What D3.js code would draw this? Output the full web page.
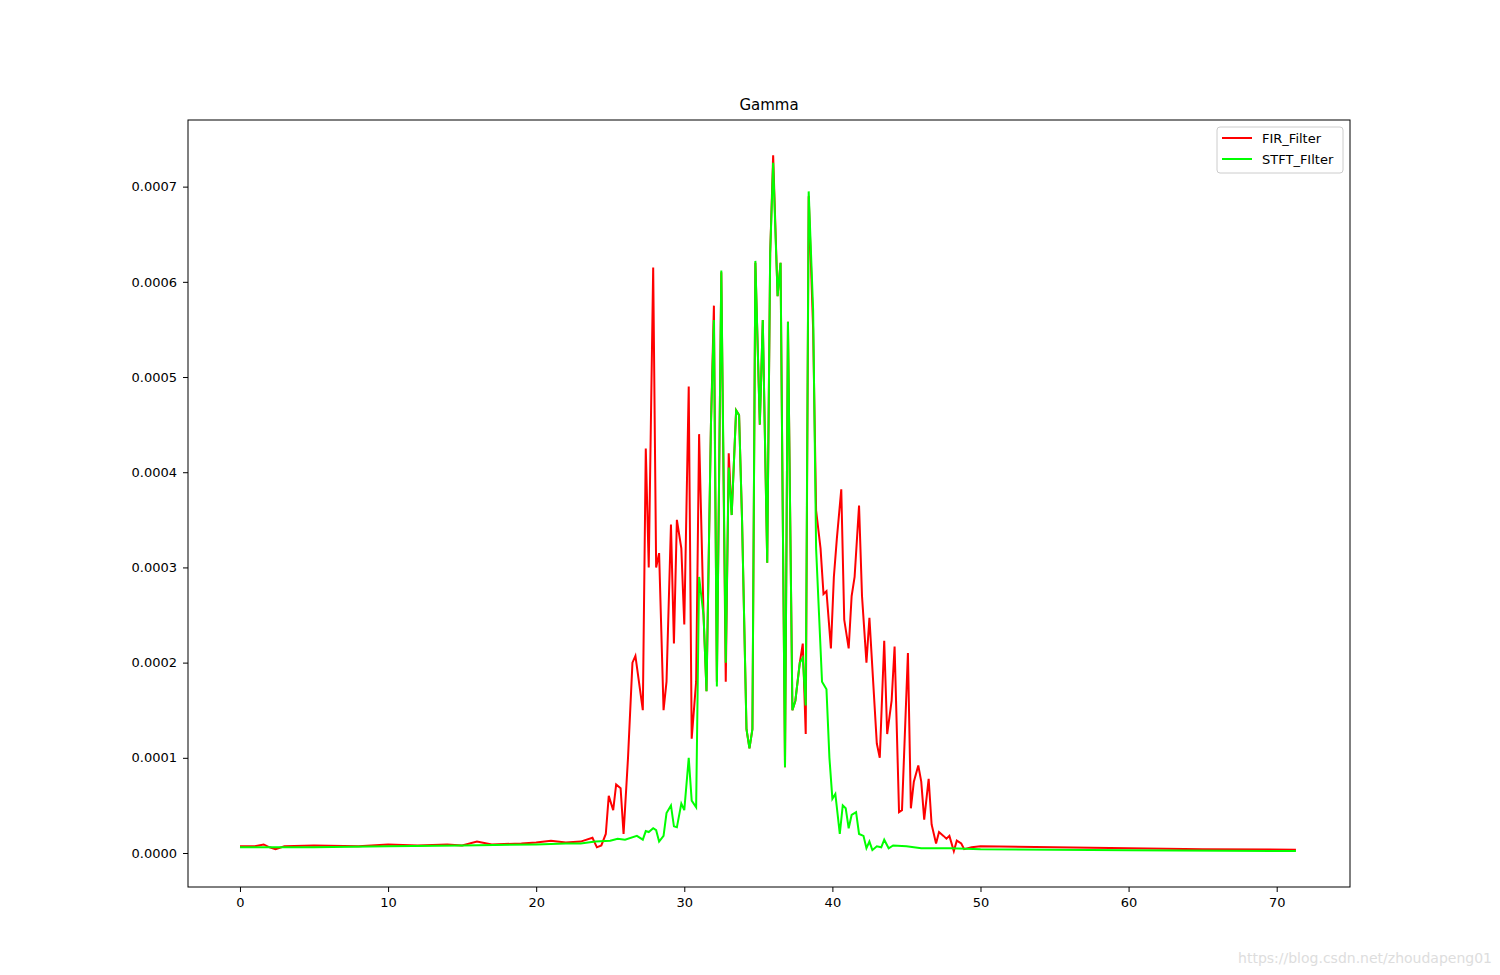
<!DOCTYPE html>
<html><head><meta charset="utf-8">
<script src="https://cdn.jsdelivr.net/npm/d3@7"></script>
<style>body{margin:0;background:#fff}text{font-family:"DejaVu Sans",sans-serif}</style>
</head><body><svg id="c" width="1500" height="975"></svg>
<script>
const firX=[0,1,1.6,2,2.4,3,5,8,10,12,14,15,16,17,19,20,21,22,23,23.8,24.1,24.4,24.7,24.9,25.2,25.4,25.7,25.9,26.2,26.5,26.7,27.2,27.4,27.6,27.9,28.1,28.3,28.6,28.8,29.1,29.3,29.5,29.8,30.0,30.3,30.5,30.8,31.0,31.3,31.5,31.8,32.0,32.2,32.5,32.8,33.0,33.2,33.5,33.7,33.9,34.2,34.4,34.6,34.8,35.1,35.3,35.6,35.8,36.0,36.3,36.5,36.8,37.0,37.3,37.5,37.8,38.0,38.2,38.4,38.7,38.9,39.2,39.4,39.6,39.9,40.1,40.3,40.6,40.8,41.1,41.3,41.5,41.8,42.0,42.3,42.5,43.0,43.2,43.5,43.7,44.0,44.2,44.5,44.7,45.1,45.3,45.5,45.8,46.0,46.2,46.5,46.7,47.0,47.2,47.5,47.7,47.9,48.2,48.4,48.7,48.9,49.4,50,55,60,65,71.3];
const firY=[0.07,0.07,0.09,0.06,0.04,0.07,0.08,0.07,0.09,0.08,0.09,0.08,0.12,0.09,0.1,0.11,0.13,0.11,0.12,0.16,0.06,0.08,0.2,0.6,0.45,0.72,0.68,0.2,1.0,2.0,2.07,1.5,4.25,3.0,6.15,3.0,3.15,1.5,1.8,3.45,2.2,3.5,3.2,2.4,4.9,1.2,1.8,4.4,2.5,1.7,4.5,5.75,1.8,6.1,1.8,4.2,3.55,4.65,4.6,3.5,1.3,1.1,1.3,6.2,4.5,5.6,3.05,6.3,7.33,5.85,6.2,0.9,5.58,1.5,1.6,2.0,2.2,1.25,6.9,5.5,3.6,3.2,2.72,2.75,2.15,2.9,3.3,3.82,2.45,2.15,2.7,2.9,3.65,2.7,2.0,2.47,1.15,1.0,2.23,1.25,1.6,2.17,0.43,0.45,2.1,0.47,0.75,0.92,0.75,0.35,0.78,0.3,0.1,0.22,0.18,0.15,0.18,0.02,0.13,0.1,0.04,0.06,0.07,0.06,0.05,0.04,0.035];
const stftX=[0,5,10,15,20,22,23,24,25,25.5,26,26.8,27.2,27.4,27.6,27.9,28.1,28.3,28.6,28.8,29.1,29.3,29.5,29.8,30.0,30.3,30.5,30.8,31.0,31.3,31.5,31.8,32.0,32.2,32.5,32.8,33.0,33.2,33.5,33.7,33.9,34.2,34.4,34.6,34.8,35.1,35.3,35.6,35.8,36.0,36.3,36.5,36.8,37.0,37.3,37.5,37.8,38.0,38.2,38.4,38.7,38.9,39.1,39.3,39.6,39.8,40.0,40.2,40.5,40.7,40.9,41.1,41.3,41.6,41.8,42.1,42.3,42.5,42.7,43.0,43.3,43.5,43.8,44.1,45,46,48,50,60,71.3];
const stftY=[0.06,0.06,0.07,0.08,0.09,0.1,0.1,0.12,0.13,0.15,0.14,0.18,0.14,0.23,0.22,0.26,0.24,0.12,0.18,0.42,0.5,0.28,0.27,0.52,0.45,1.0,0.55,0.48,2.9,2.5,1.7,4.5,5.6,1.75,6.12,2.0,4.05,3.55,4.65,4.6,3.5,1.3,1.1,1.3,6.22,4.5,5.6,3.05,6.3,7.25,5.85,6.2,0.9,5.58,1.5,1.6,2.0,2.05,1.55,6.95,5.7,3.2,2.5,1.8,1.72,1.0,0.57,0.62,0.2,0.5,0.47,0.26,0.4,0.43,0.2,0.18,0.05,0.12,0.03,0.07,0.06,0.14,0.05,0.08,0.07,0.05,0.05,0.04,0.03,0.02];
const xTicks=[0,10,20,30,40,50,60,70];
const yTicks=[0,0.0001,0.0002,0.0003,0.0004,0.0005,0.0006,0.0007];

const svg=d3.select("#c");
const L=188,R=1350,T=120,B=887;
const x=d3.scaleLinear().domain([-3.51,74.95]).range([L,R]);
const y=d3.scaleLinear().domain([-0.0000357,0.00077]).range([B,T]);
const line=d3.line().x(d=>x(d[0])).y(d=>y(d[1]*1e-4));
svg.append("path").datum(firX.map((v,i)=>[v,firY[i]])).attr("d",line).attr("fill","none").attr("stroke","#ff0000").attr("stroke-width",2);
svg.append("path").datum(stftX.map((v,i)=>[v,stftY[i]])).attr("d",line).attr("fill","none").attr("stroke","#00ff00").attr("stroke-width",2);
svg.append("rect").attr("x",L).attr("y",T).attr("width",R-L).attr("height",B-T).attr("fill","none").attr("stroke","#000");
const ax=svg.append("g").attr("transform",`translate(0,${B})`).call(d3.axisBottom(x).tickValues(xTicks).tickSize(5).tickPadding(6));
const ay=svg.append("g").attr("transform",`translate(${L},0)`).call(d3.axisLeft(y).tickValues(yTicks).tickFormat(d3.format(".4f")).tickSize(5).tickPadding(6));
[ax,ay].forEach(a=>{a.select(".domain").remove();a.selectAll("text").attr("font-size",13).attr("font-family","DejaVu Sans");});
svg.append("text").attr("x",(L+R)/2).attr("y",110).attr("text-anchor","middle").attr("font-size",15).text("Gamma");
const lg=svg.append("g");
lg.append("rect").attr("x",1217).attr("y",127).attr("width",126).attr("height",46).attr("rx",3).attr("fill","#fff").attr("stroke","#ccc");
[["FIR_Filter","#ff0000"],["STFT_FIlter","#00ff00"]].forEach((d,i)=>{
 lg.append("line").attr("x1",1222).attr("x2",1252).attr("y1",138+i*21).attr("y2",138+i*21).attr("stroke",d[1]).attr("stroke-width",2);
 lg.append("text").attr("x",1262).attr("y",143+i*21).attr("font-size",13).text(d[0]);
});
svg.append("text").attr("x",1492).attr("y",963).attr("text-anchor","end").attr("font-size",14).attr("fill","#ddd").text("https://blog.csdn.net/zhoudapeng01");
</script></body></html>
